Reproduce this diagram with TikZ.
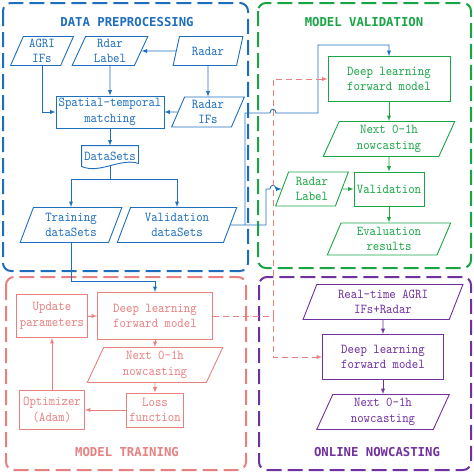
\documentclass[tikz,border=0pt]{standalone}
\usepackage{fontspec}
\newfontfamily\titleFace{DejaVu Sans Mono}
\newfontfamily\flowFace{lmmono10-regular.otf}[FakeStretch=0.9]
\usetikzlibrary{shapes.geometric}
\newcommand{\flowFont}{\flowFace\fontsize{13.6}{15.5}\selectfont}
\newcommand{\panelFont}{\titleFace\bfseries\fontsize{12.3}{14}\selectfont}
\definecolor{prepBlue}{RGB}{30,110,190}
\definecolor{validGreen}{RGB}{25,165,70}
\definecolor{trainPink}{RGB}{232,128,128}
\definecolor{onlinePurple}{RGB}{112,48,160}
\tikzset{
    procBox/.style={draw, rectangle, line width=0.9pt, align=center, font=\flowFont, inner sep=1pt},
    dataBox/.style={draw, trapezium, trapezium left angle=70, trapezium right angle=110,
        trapezium stretches=true, line width=0.9pt, align=center, font=\flowFont, inner sep=1pt},
}
\tikzset{
    panelFrame/.style={line width=2pt, rounded corners=8pt, dash pattern=on 15pt off 6pt},
    panelTitle/.style={font=\panelFont},
    feedLine/.style={dash pattern=on 6pt off 4pt},
}

\begin{document}
\begin{tikzpicture}[x=1pt, y=-1pt, >=latex, line width=0.9pt]
        \useasboundingbox (0,0) rectangle (474,472);
        % panels
        \draw[prepBlue, panelFrame] (3,3) rectangle (248,271);
        \draw[validGreen, panelFrame] (258,3) rectangle (471,268);
        \draw[trainPink, panelFrame] (6,277) rectangle (246,470);
        \draw[onlinePurple, panelFrame] (259,277) rectangle (471,470);
        \node[panelTitle, text=prepBlue] (prepTitle) at (127,22) {DATA PREPROCESSING};
        \node[panelTitle, text=validGreen] (validTitle) at (364,22) {MODEL VALIDATION};
        \node[panelTitle, text=trainPink] (trainTitle) at (127,452) {MODEL TRAINING};
        \node[panelTitle, text=onlinePurple] (onlineTitle) at (377,452) {ONLINE NOWCASTING};

        % data preprocessing
        \node[dataBox, prepBlue, minimum width=63pt, minimum height=29pt] (agri) at (42,51) {AGRI\\IFs};
        \node[dataBox, prepBlue, minimum width=76pt, minimum height=29pt] (rlabel) at (110,51) {Rdar\\Label};
        \node[dataBox, prepBlue, minimum width=70pt, minimum height=29pt] (radar) at (208,51) {Radar};
        \node[procBox, prepBlue, minimum width=108pt, minimum height=32pt] (match) at (110,112) {Spatial-temporal\\matching};
        \node[dataBox, prepBlue, minimum width=73pt, minimum height=30pt] (radarIF) at (208,112) {Radar\\IFs};
        \node[font=\flowFont, text=prepBlue, minimum width=56pt, minimum height=20pt, inner sep=1pt] (dsets) at (110,156) {DataSets};
        \draw[prepBlue] (dsets.south west) -- (dsets.north west) -- (dsets.north east) -- ([yshift=3pt]dsets.south east)
            .. controls +(-18,-6) and +(18,8) .. (dsets.south west) -- cycle;
        \node[dataBox, prepBlue, minimum width=102pt, minimum height=35pt] (train) at (71,225) {Training\\dataSets};
        \node[dataBox, prepBlue, minimum width=120pt, minimum height=35pt] (valid) at (177,225) {Validation\\dataSets};
        \coordinate (dsSplit) at (110,179);
        \coordinate (trainBend) at (71,281);
        \coordinate (validJoint) at (245,225);

        \draw[prepBlue, ->] (radar) -- (rlabel);
        \draw[prepBlue, ->] (radar) -- (radarIF);
        \draw[prepBlue, ->] (agri) |- (match);
        \draw[prepBlue, ->] (rlabel) -- (match);
        \draw[prepBlue, ->] (radarIF) -- (match);
        \draw[prepBlue, ->] (match) -- (dsets);
        \draw[prepBlue] (dsets.south) -- (dsSplit);
        \draw[prepBlue, ->] (dsSplit) -| (train);
        \draw[prepBlue, ->] (dsSplit) -| (valid);

        % model validation
        \node[procBox, validGreen, minimum width=122pt, minimum height=45pt] (gdeep) at (389,79) {Deep learning\\forward model};
        \node[dataBox, validGreen, minimum width=132pt, minimum height=35pt] (gnext) at (389,139) {Next 0-1h\\nowcasting};
        \node[dataBox, validGreen, minimum width=73pt, minimum height=34pt] (glabel) at (312,189) {Radar\\Label};
        \node[procBox, validGreen, minimum width=70pt, minimum height=34pt] (gvalid) at (389,189) {Validation};
        \node[dataBox, validGreen, minimum width=124pt, minimum height=32pt] (geval) at (389,239) {Evaluation\\results};
        \draw[validGreen, ->] (gdeep) -- (gnext);
        \draw[validGreen, ->] (gnext) -- (gvalid);
        \draw[validGreen, ->] (glabel) -- (gvalid);
        \draw[validGreen, ->] (gvalid) -- (geval);

        % model training
        \node[procBox, trainPink, minimum width=71pt, minimum height=43pt] (update) at (52,316) {Update\\parameters};
        \node[procBox, trainPink, minimum width=115pt, minimum height=47pt] (tdeep) at (155,316) {Deep learning\\forward model};
        \node[dataBox, trainPink, minimum width=136pt, minimum height=35pt] (tnext) at (155,365) {Next 0-1h\\nowcasting};
        \node[procBox, trainPink, minimum width=57pt, minimum height=34pt] (loss) at (155,410) {Loss\\function};
        \node[procBox, trainPink, minimum width=65pt, minimum height=39pt] (optim) at (52,410) {Optimizer\\(Adam)};
        \draw[trainPink, ->] (update) -- (tdeep);
        \draw[trainPink, ->] (tdeep) -- (tnext);
        \draw[trainPink, ->] (tnext) -- (loss);
        \draw[trainPink, ->] (loss) -- (optim);
        \draw[trainPink, ->] (optim) -- (update);

        % online nowcasting
        \node[dataBox, onlinePurple, minimum width=160pt, minimum height=35pt] (rtin) at (383,302) {Real-time AGRI\\IFs+Radar};
        \node[procBox, onlinePurple, minimum width=121pt, minimum height=45pt] (odeep) at (383,357) {Deep learning\\forward model};
        \node[dataBox, onlinePurple, minimum width=133pt, minimum height=35pt] (onext) at (383,412) {Next 0-1h\\nowcasting};
        \draw[onlinePurple, ->] (rtin) -- (odeep);
        \draw[onlinePurple, ->] (odeep) -- (onext);

        % links between panels
        \draw[prepBlue, ->] (train) -- (trainBend) -| (tdeep);
        \draw[prepBlue] (valid) -- (validJoint);
        \draw[prepBlue, ->] (validJoint) -- (245,113) -- (270,113) .. controls (270,108) and (276,108) .. (276,113)
            -- (318,113) -- (318,45) -| (gdeep);
        \draw[prepBlue, ->] (validJoint) -- (266,225) -- (266,189) -- (270,189) .. controls (270,184) and (276,184) .. (276,189)
            -- (glabel);
        \coordinate (pinkJoint) at (273,316);
        \draw[trainPink, feedLine] (tdeep) -- (pinkJoint);
        \draw[trainPink, feedLine, ->] (pinkJoint) |- (gdeep);
        \draw[trainPink, feedLine, ->] (pinkJoint) |- (odeep);
      \end{tikzpicture}
\end{document}
